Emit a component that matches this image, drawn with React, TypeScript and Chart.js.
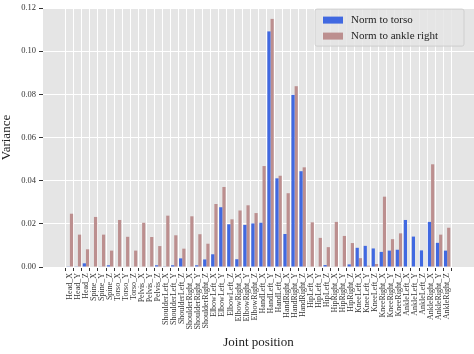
import { useEffect, useRef } from 'react';
import { Chart, registerables } from 'chart.js';

Chart.register(...registerables);

const categories = [
  'Head_X', 'Head_Y', 'Head_Z',
  'Spine_X', 'Spine_Y', 'Spine_Z',
  'Torso_X', 'Torso_Y', 'Torso_Z',
  'Pelvis_X', 'Pelvis_Y', 'Pelvis_Z',
  'ShoulderLeft_X', 'ShoulderLeft_Y', 'ShoulderLeft_Z',
  'ShoulderRight_X', 'ShoulderRight_Y', 'ShoulderRight_Z',
  'ElbowLeft_X', 'ElbowLeft_Y', 'ElbowLeft_Z',
  'ElbowRight_X', 'ElbowRight_Y', 'ElbowRight_Z',
  'HandLeft_X', 'HandLeft_Y', 'HandLeft_Z',
  'HandRight_X', 'HandRight_Y', 'HandRight_Z',
  'HipLeft_X', 'HipLeft_Y', 'HipLeft_Z',
  'HipRight_X', 'HipRight_Y', 'HipRight_Z',
  'KneeLeft_X', 'KneeLeft_Y', 'KneeLeft_Z',
  'KneeRight_X', 'KneeRight_Y', 'KneeRight_Z',
  'AnkleLeft_X', 'AnkleLeft_Y', 'AnkleLeft_Z',
  'AnkleRight_X', 'AnkleRight_Y', 'AnkleRight_Z',
];

const torsoVariance = [
  0.0003, 0.0003, 0.0017, 0, 0.0002, 0.0008, 0, 0, 0, 0, 0, 0.0008,
  0.0003, 0.0008, 0.004, 0, 0.0008, 0.0035, 0.0059, 0.0277, 0.0198, 0.0036, 0.0195, 0.0202,
  0.0205, 0.1092, 0.0411, 0.0153, 0.0798, 0.0444, 0, 0, 0.0009, 0, 0, 0.0012,
  0.0089, 0.0098, 0.0086, 0.007, 0.0076, 0.008, 0.0218, 0.0141, 0.0077, 0.0209, 0.0112, 0.0076,
];

const ankleRightVariance = [
  0.0247, 0.015, 0.0082, 0.0232, 0.015, 0.0076, 0.0218, 0.014, 0.0076, 0.0205, 0.0139, 0.0097,
  0.0238, 0.0147, 0.0085, 0.0235, 0.0152, 0.0108, 0.0292, 0.0371, 0.0221, 0.0262, 0.0286, 0.025,
  0.0468, 0.115, 0.0423, 0.0342, 0.0838, 0.0462, 0.0207, 0.0135, 0.0092, 0.0209, 0.0144, 0.0111,
  0.0041, 0.0006, 0.0014, 0.0326, 0.0129, 0.0156, 0, 0, 0, 0.0476, 0.015, 0.0182,
];

const seriesNames = ['Norm to torso', 'Norm to ankle right'];
const seriesColors = ['#4169E1', '#BC8F8F'];
const yMin = 0;
const yMax = 0.12;
const yStep = 0.02;
const xTitle = 'Joint position';
const yTitle = 'Variance';

const SERIF = "'Liberation Serif', 'DejaVu Serif', serif";

const backgroundPlugin = {
  id: 'plotBackground',
  beforeDraw(chart: any) {
    const { ctx, chartArea: a } = chart;
    ctx.save();
    ctx.fillStyle = '#E5E5E5';
    ctx.fillRect(a.left, a.top, a.right - a.left, a.bottom - a.top);
    ctx.restore();
  },
};

const insideLegendPlugin = {
  id: 'insideLegend',
  afterDraw(chart: any) {
    const { ctx, chartArea: a } = chart;
    const boxW = 149;
    const boxH = 37;
    const x0 = a.right - 10 - boxW;
    const y0 = a.top + 1;
    ctx.save();
    ctx.fillStyle = 'rgba(229,229,229,0.85)';
    ctx.strokeStyle = 'rgba(204,204,204,0.9)';
    ctx.lineWidth = 1;
    const r = 2;
    ctx.beginPath();
    ctx.moveTo(x0 + r, y0);
    ctx.lineTo(x0 + boxW - r, y0);
    ctx.quadraticCurveTo(x0 + boxW, y0, x0 + boxW, y0 + r);
    ctx.lineTo(x0 + boxW, y0 + boxH - r);
    ctx.quadraticCurveTo(x0 + boxW, y0 + boxH, x0 + boxW - r, y0 + boxH);
    ctx.lineTo(x0 + r, y0 + boxH);
    ctx.quadraticCurveTo(x0, y0 + boxH, x0, y0 + boxH - r);
    ctx.lineTo(x0, y0 + r);
    ctx.quadraticCurveTo(x0, y0, x0 + r, y0);
    ctx.closePath();
    ctx.fill();
    ctx.stroke();
    ctx.font = `11px ${SERIF}`;
    ctx.textBaseline = 'middle';
    ctx.textAlign = 'left';
    chart.data.datasets.forEach((ds: any, i: number) => {
      const cy = y0 + 11 + i * 16;
      ctx.fillStyle = ds.backgroundColor;
      ctx.fillRect(x0 + 8, cy - 3.5, 20, 7);
      ctx.fillStyle = '#222';
      ctx.fillText(ds.label, x0 + 36, cy + 0.5);
    });
    ctx.restore();
  },
};

export default function App() {
  const canvasRef = useRef<HTMLCanvasElement>(null);

  useEffect(() => {
    if (!canvasRef.current) return;
    const chart = new Chart(canvasRef.current, {
      type: 'bar',
      data: {
        datasets: [
          {
            label: seriesNames[0],
            data: torsoVariance.map((v, i) => ({ x: i, y: v })),
            backgroundColor: seriesColors[0],
            borderWidth: 0,
          },
          {
            label: seriesNames[1],
            data: ankleRightVariance.map((v, i) => ({ x: i, y: v })),
            backgroundColor: seriesColors[1],
            borderWidth: 0,
          },
        ],
      },
      options: {
        responsive: false,
        animation: false,
        maintainAspectRatio: false,
        categoryPercentage: 0.8,
        barPercentage: 1.0,
        layout: { padding: { top: 3, right: 0, left: 0, bottom: 0 } },
        plugins: {
          legend: { display: false },
          tooltip: { enabled: false },
        },
        scales: {
          x: {
            type: 'linear',
            min: -2.79,
            max: 49.79,
            afterBuildTicks: (scale: any) => {
              scale.ticks = categories.map((_, i) => ({ value: i }));
            },
            afterFit: (scale: any) => {
              scale.height = 87;
            },
            ticks: {
              autoSkip: false,
              minRotation: 90,
              maxRotation: 90,
              padding: 2,
              color: '#333',
              font: { family: SERIF, size: 8 },
              callback: (v: any) => categories[Math.round(Number(v))] ?? '',
            },
            grid: {
              color: '#FFFFFF',
              lineWidth: 1,
              drawTicks: true,
              tickLength: 4,
              tickColor: '#333',
            },
            border: { display: false },
            title: {
              display: true,
              text: xTitle,
              color: '#222',
              font: { family: SERIF, size: 13 },
              padding: { top: 0, bottom: 4 },
            },
          },
          y: {
            min: yMin,
            max: yMax,
            afterFit: (scale: any) => {
              scale.width = 43;
            },
            ticks: {
              stepSize: yStep,
              padding: 3,
              color: '#333',
              font: { family: SERIF, size: 8.5 },
              callback: (v: any) => Number(v).toFixed(2),
            },
            grid: {
              color: '#FFFFFF',
              lineWidth: 1,
              drawTicks: true,
              tickLength: 4,
              tickColor: '#333',
            },
            border: { display: false },
            title: {
              display: true,
              text: yTitle,
              color: '#222',
              font: { family: SERIF, size: 13, lineHeight: 1 },
              padding: { top: 0, bottom: 0 },
            },
          },
        },
      },
      plugins: [backgroundPlugin, insideLegendPlugin],
    } as any);
    return () => chart.destroy();
  }, []);

  return (
    <div style={{ position: 'fixed', left: 0, top: 0, width: 474, height: 354 }}>
      <canvas ref={canvasRef} width={474} height={354} />
    </div>
  );
}
